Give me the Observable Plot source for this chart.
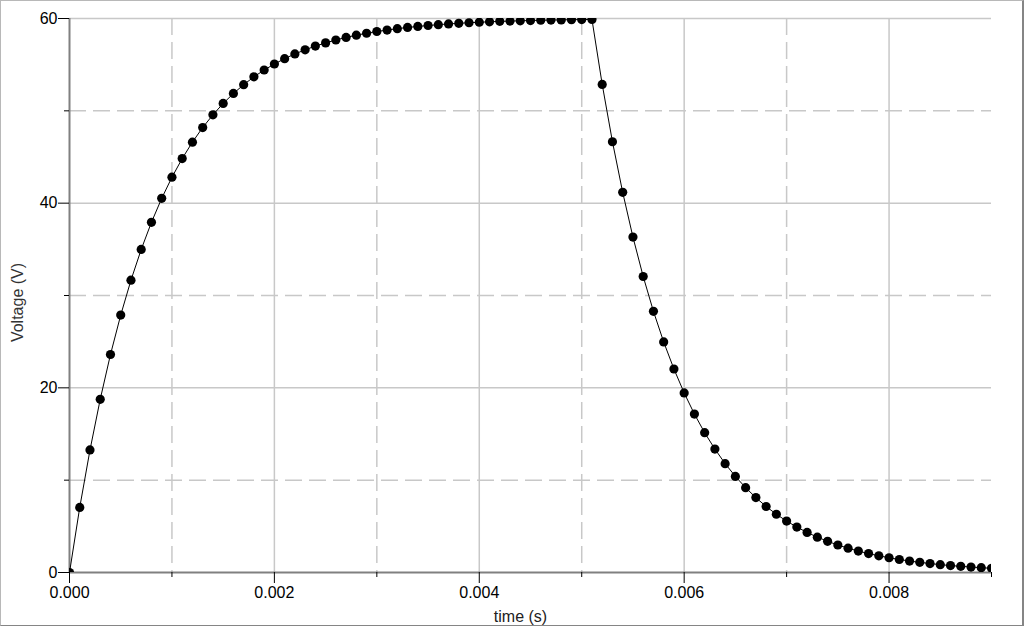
<!DOCTYPE html>
<html>
<head>
<meta charset="utf-8">
<script src="https://cdn.jsdelivr.net/npm/d3@7"></script>
<script src="https://cdn.jsdelivr.net/npm/@observablehq/plot@0.6"></script>
<style>
  html, body { margin: 0; padding: 0; background: #fff; overflow: hidden; }
  #wrap { position: relative; width: 1024px; height: 626px; }
  #frame { position: absolute; left: 0; top: 0; width: 1024px; height: 626px; box-sizing: border-box;
           border-top: 1px solid #b8b8b8; border-left: 1px solid #b8b8b8;
           border-right: 2px solid #858585; border-bottom: 1px solid #858585; pointer-events: none; }
</style>
</head>
<body>
<div id="wrap"><div id="frame"></div></div>
<script>
const time = [
  0.0000, 0.0001, 0.0002, 0.0003, 0.0004, 0.0005, 0.0006, 0.0007, 0.0008, 0.0009,
  0.0010, 0.0011, 0.0012, 0.0013, 0.0014, 0.0015, 0.0016, 0.0017, 0.0018, 0.0019,
  0.0020, 0.0021, 0.0022, 0.0023, 0.0024, 0.0025, 0.0026, 0.0027, 0.0028, 0.0029,
  0.0030, 0.0031, 0.0032, 0.0033, 0.0034, 0.0035, 0.0036, 0.0037, 0.0038, 0.0039,
  0.0040, 0.0041, 0.0042, 0.0043, 0.0044, 0.0045, 0.0046, 0.0047, 0.0048, 0.0049,
  0.0050, 0.0051, 0.0052, 0.0053, 0.0054, 0.0055, 0.0056, 0.0057, 0.0058, 0.0059,
  0.0060, 0.0061, 0.0062, 0.0063, 0.0064, 0.0065, 0.0066, 0.0067, 0.0068, 0.0069,
  0.0070, 0.0071, 0.0072, 0.0073, 0.0074, 0.0075, 0.0076, 0.0077, 0.0078, 0.0079,
  0.0080, 0.0081, 0.0082, 0.0083, 0.0084, 0.0085, 0.0086, 0.0087, 0.0088, 0.0089,
  0.0090
];
const voltage = [
  0, 7.05, 13.27, 18.76, 23.61, 27.88, 31.66, 34.99, 37.93, 40.52,
  42.81, 44.83, 46.61, 48.19, 49.57, 50.80, 51.88, 52.83, 53.68, 54.42,
  55.07, 55.65, 56.16, 56.61, 57.01, 57.36, 57.67, 57.95, 58.19, 58.40,
  58.59, 58.75, 58.90, 59.03, 59.14, 59.24, 59.33, 59.41, 59.48, 59.54,
  59.60, 59.64, 59.69, 59.72, 59.75, 59.78, 59.81, 59.83, 59.85, 59.87,
  59.88, 59.90, 52.86, 46.65, 41.17, 36.33, 32.06, 28.29, 24.97, 22.04,
  19.45, 17.16, 15.14, 13.37, 11.79, 10.41, 9.19, 8.11, 7.15, 6.31,
  5.57, 4.92, 4.34, 3.83, 3.38, 2.98, 2.63, 2.32, 2.05, 1.81,
  1.60, 1.41, 1.24, 1.10, 0.97, 0.85, 0.75, 0.67, 0.59, 0.52,
  0.46
];
const xDomain = [0, 0.009];
const yDomain = [0, 60];
const xMajorTicks = [0, 0.002, 0.004, 0.006, 0.008];
const xMinorTicks = [0.001, 0.003, 0.005, 0.007, 0.009];
const yMajorTicks = [0, 20, 40, 60];
const yMinorTicks = [10, 30, 50];
const xGridSolid = [0.002, 0.004, 0.006, 0.008];
const xGridDashed = [0.001, 0.003, 0.005, 0.007];
const yGridSolid = [20, 40, 60];
const yGridDashed = [10, 30, 50];
const xLabel = "time (s)";
const yLabel = "Voltage (V)";

const data = time.map((t, i) => ({t, v: voltage[i]}));
const gridColor = "#c8c8c8";
const axisColor = "#808080";

const chart = Plot.plot({
  width: 1024,
  height: 626,
  marginLeft: 69,
  marginRight: 33,
  marginTop: 18,
  marginBottom: 54,
  style: {fontFamily: "'Liberation Sans', Arial, sans-serif", fontSize: "16px", background: "transparent", color: "#000", overflow: "visible"},
  x: {domain: xDomain, axis: null},
  y: {domain: yDomain, axis: null},
  marks: [
    Plot.ruleX(xGridSolid, {stroke: gridColor, strokeWidth: 1.5}),
    Plot.ruleX(xGridDashed, {stroke: gridColor, strokeWidth: 1.5, strokeDasharray: "17,7"}),
    Plot.ruleY(yGridSolid, {stroke: gridColor, strokeWidth: 1.5}),
    Plot.ruleY(yGridDashed, {stroke: gridColor, strokeWidth: 1.5, strokeDasharray: "17,7"}),
    Plot.ruleX([xDomain[0]], {stroke: axisColor, strokeWidth: 2}),
    Plot.ruleY([yDomain[0]], {stroke: axisColor, strokeWidth: 2}),
    Plot.line(data, {x: "t", y: "v", stroke: "black", strokeWidth: 1, clip: true}),
    Plot.dot(data, {x: "t", y: "v", r: 4.6, fill: "black", stroke: "none", clip: true}),
    Plot.axisX(xMajorTicks, {tickSize: 11, tickPadding: 3, tickFormat: d3.format(".3f"), label: null, stroke: "black", fill: "black"}),
    Plot.axisX(xMinorTicks, {tickSize: 5, label: null, stroke: "black", fill: "none"}),
    Plot.axisY(yMajorTicks, {tickSize: 11, tickPadding: 1, tickFormat: d3.format("d"), label: null, stroke: "black", fill: "black"}),
    Plot.axisY(yMinorTicks, {tickSize: 5, label: null, stroke: "black", fill: "none"}),
    Plot.text([xLabel], {frameAnchor: "bottom", dy: 49, dx: -10, fill: "#222", fontSize: 16, lineAnchor: "bottom"}),
    Plot.text([yLabel], {frameAnchor: "left", dx: -52, dy: 7, rotate: -90, textAnchor: "middle", fill: "#333", fontSize: 16})
  ]
});
document.getElementById("wrap").insertBefore(chart, document.getElementById("frame"));
</script>
</body>
</html>
